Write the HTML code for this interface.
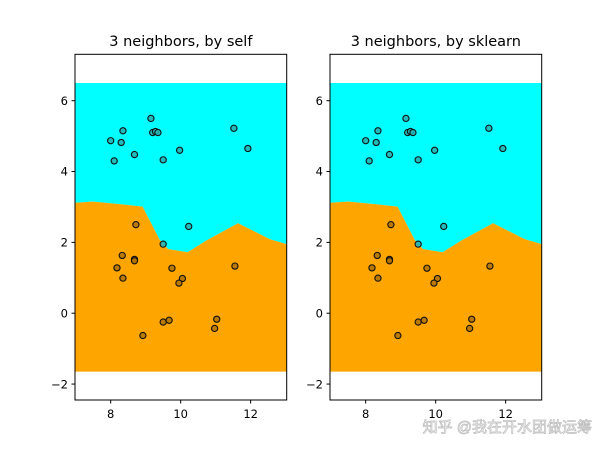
<!DOCTYPE html>
<html><head><meta charset="utf-8"><style>
body{margin:0;background:#fff;}
svg text{font-family:"DejaVu Sans","Liberation Sans",sans-serif;}
</style></head><body>
<svg id="fig" width="600" height="450" xmlns="http://www.w3.org/2000/svg"></svg>
<script>
const titles = ["3 neighbors, by self", "3 neighbors, by sklearn"];
const xTicks = [8, 10, 12];
const yTicks = [-2, 0, 2, 4, 6];
const boundaryX = [6.98, 7.5, 8.55, 8.91, 9.4, 9.64, 10.2, 10.71, 11.64, 12.55, 13.03];
const boundaryY = [3.12, 3.15, 3.05, 3.01, 2.07, 1.81, 1.72, 2.04, 2.54, 2.09, 1.95];
const regionTop = 6.5, regionBottom = -1.65;
const class0X = [8, 8.1, 8.3, 8.35, 8.68, 9.15, 9.2, 9.28, 9.35, 9.5, 9.97, 10.23, 9.5, 11.52, 11.92];
const class0Y = [4.87, 4.3, 4.82, 5.15, 4.48, 5.5, 5.1, 5.13, 5.1, 4.33, 4.6, 2.45, 1.95, 5.22, 4.65];
const class1X = [8.72, 8.33, 8.68, 8.68, 8.18, 8.35, 9.75, 10.05, 9.95, 11.55, 9.5, 9.67, 8.92, 11.03, 10.97];
const class1Y = [2.5, 1.63, 1.52, 1.48, 1.28, 0.99, 1.27, 0.98, 0.85, 1.33, -0.25, -0.2, -0.63, -0.17, -0.43];

const NS = "http://www.w3.org/2000/svg";
const fig = document.getElementById("fig");
function mk(tag, attrs, parent){const e=document.createElementNS(NS,tag);for(const k in attrs)e.setAttribute(k,attrs[k]);(parent||fig).appendChild(e);return e;}
const xmin=6.98,xmax=13.03,ymin=-2.45,ymax=7.31;
const W=211.7, T=54.3, B=400;
[75,330].forEach((L,pi)=>{
  const R=L+W;
  const sx=v=>L+(v-xmin)/(xmax-xmin)*(R-L);
  const sy=v=>B-(v-ymin)/(ymax-ymin)*(B-T);
  const g=mk("g",{});
  
  
  let top=[`${sx(xmin)},${sy(regionTop)}`,`${sx(xmax)},${sy(regionTop)}`];
  let bpts=boundaryX.map((x,i)=>`${sx(x)},${sy(boundaryY[i])}`);
  const cy=mk("polygon",{points:top.concat(bpts.slice().reverse()).join(" "),fill:"#00ffff"},g);
  
  
  const or=mk("polygon",{points:bpts.concat([`${sx(xmax)},${sy(regionBottom)}`,`${sx(xmin)},${sy(regionBottom)}`]).join(" "),fill:"#ffa500"},g);
  
  
  class0X.forEach((x,i)=>{const c=mk("circle",{cx:sx(x),cy:sy(class0Y[i]),r:3.1,fill:"#26b3b3","fill-opacity":0.9,stroke:"#111","stroke-width":1.1},g);
    });
  class1X.forEach((x,i)=>{const c=mk("circle",{cx:sx(x),cy:sy(class1Y[i]),r:3.1,fill:"#b37400","fill-opacity":0.9,stroke:"#111","stroke-width":1.1},g);
    });
  const fr=mk("rect",{x:L,y:T,width:W,height:B-T,fill:"none",stroke:"#000","stroke-width":1},g);
  
  xTicks.forEach(t=>{mk("line",{x1:sx(t),x2:sx(t),y1:B,y2:B+3.5,stroke:"#000"},g);
    const tx=mk("text",{x:sx(t),y:B+18,"font-size":11.5,"text-anchor":"middle"},g);tx.textContent=t;
    });
  yTicks.forEach(t=>{mk("line",{x1:L-3.5,x2:L,y1:sy(t),y2:sy(t),stroke:"#000"},g);
    const tx=mk("text",{x:L-7,y:sy(t)+4.2,"font-size":11.5,"text-anchor":"end"},g);tx.textContent=t<0?"\u22122":t;
    });
  const ti=mk("text",{x:L+W/2,y:46,"font-size":14.5,"text-anchor":"middle"},g);ti.textContent=titles[pi];
  
});
const wm=mk("text",{x:592,y:432,"font-size":15,"text-anchor":"end",fill:"#fff",stroke:"#bbb","stroke-width":0.7,style:'font-family:"Liberation Sans","Noto Sans CJK SC",sans-serif'});
wm.textContent="知乎 @我在开水团做运筹";


</script>
</body></html>
